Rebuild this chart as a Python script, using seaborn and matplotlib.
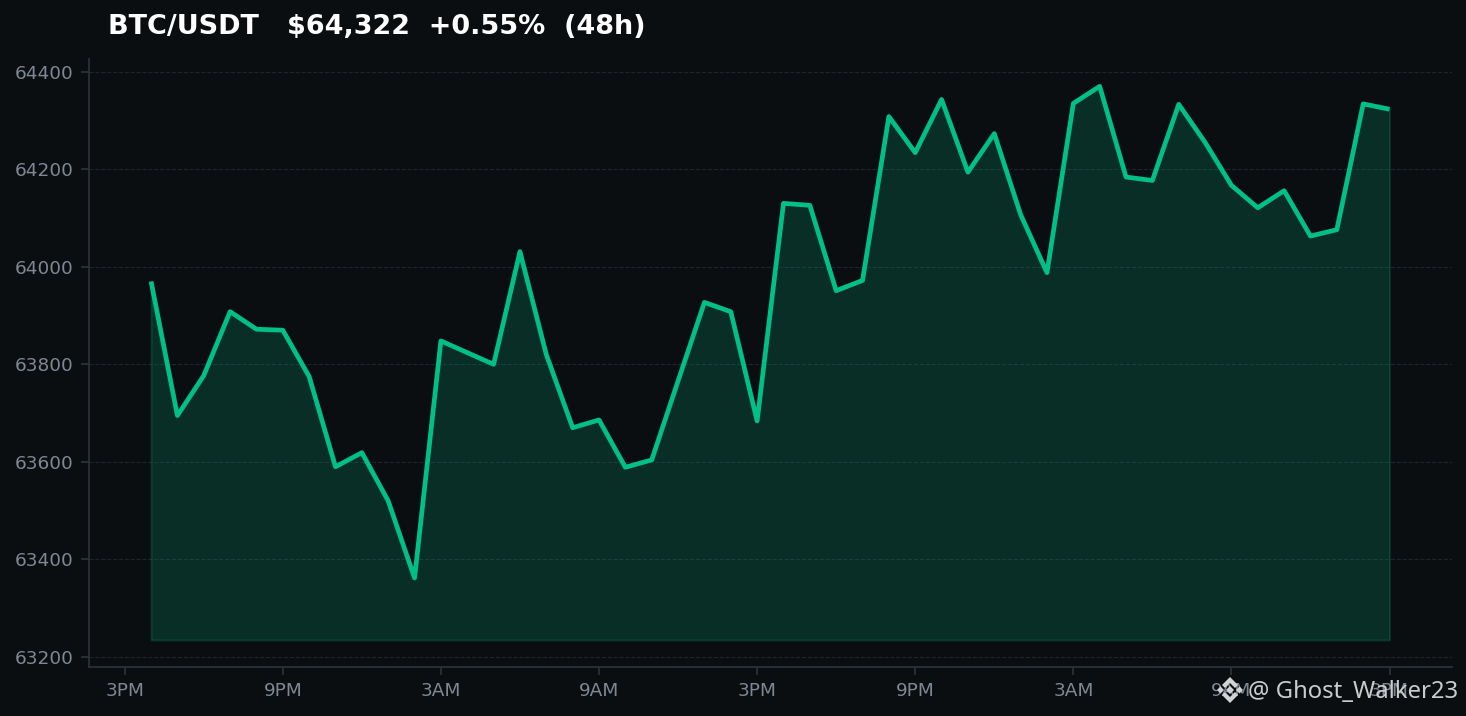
import matplotlib
matplotlib.use("Agg")
import matplotlib.pyplot as plt
from matplotlib.patches import Polygon
import seaborn as sns

hours = list(range(1, 49))
prices = [63970, 63695, 63777, 63908, 63872, 63870, 63775, 63590, 63619, 63520,
          63362, 63848, 63824, 63800, 64031, 63820, 63670, 63686, 63589, 63604,
          63766, 63927, 63908, 63684, 64130, 64126, 63951, 63972, 64308, 64234,
          64343, 64194, 64273, 64107, 63988, 64335, 64370, 64184, 64177, 64333,
          64255, 64167, 64121, 64156, 64063, 64076, 64334, 64323]
fill_floor = 63235
tick_hours = [0, 6, 12, 18, 24, 30, 36, 42, 48]
tick_labels = ["3PM", "9PM", "3AM", "9AM", "3PM", "9PM", "3AM", "9AM", "3PM"]
y_ticks = [63200, 63400, 63600, 63800, 64000, 64200, 64400]

BG = "#0b0e11"
GREEN = "#00c085"
MUTED = "#7e8792"
EDGE = "#2f343c"

sns.set_theme(style="dark", rc={"axes.facecolor": BG, "figure.facecolor": BG})

W, H = 1466, 716
fig = plt.figure(figsize=(W / 100, H / 100), dpi=100)
ax = fig.add_axes([89 / W, 1 - 667 / H, (1452 - 89) / W, (667 - 59) / H])

# -------------------------------
# price line and area
# -------------------------------
ax.fill_between(hours, prices, fill_floor, color=GREEN, alpha=0.18, linewidth=1.5)
sns.lineplot(x=hours, y=prices, color=GREEN, linewidth=3.4, ax=ax, solid_capstyle="butt")

ax.set_xlim(-1.355, 50.37)
ax.set_ylim(63179.5, 64426)
ax.set_xticks(tick_hours)
ax.set_xticklabels(tick_labels)
ax.set_yticks(y_ticks)
ax.tick_params(colors=MUTED, labelsize=13.3, length=6, width=1.2, color=EDGE, pad=5, left=True, bottom=True)
ax.yaxis.grid(True, color="#20252b", linestyle="--", linewidth=0.8)
ax.xaxis.grid(False)
ax.set_axisbelow(True)

sns.despine(ax=ax)
for side in ["left", "bottom"]:
    ax.spines[side].set_color(EDGE)
    ax.spines[side].set_linewidth(1.2)

fig.text(108 / W, 1 - 27.5 / H, "BTC/USDT   $64,322  +0.55%  (48h)", color="white",
         fontsize=19.45, fontweight="bold", va="center", ha="left")

# -------------------------------
# watermark
# -------------------------------
fig.text(1248 / W, 1 - 691.5 / H, "@ Ghost_Walker23", color="#c9cbcd", fontsize=17.2,
         family="Noto Sans", va="center", ha="left", zorder=10)
logo_shapes = [
    [(1230, 677), (1238, 685), (1235, 688), (1230, 683), (1225, 688), (1222, 685)],
    [(1230, 703), (1238, 695), (1235, 692), (1230, 697), (1225, 692), (1222, 695)],
    [(1217, 690), (1220.5, 686.5), (1224, 690), (1220.5, 693.5)],
    [(1236, 690), (1239.5, 686.5), (1243, 690), (1239.5, 693.5)],
    [(1226, 690), (1230, 686), (1234, 690), (1230, 694)],
]
for pts in logo_shapes:
    fig.add_artist(Polygon([(x / W, 1 - y / H) for x, y in pts], closed=True, facecolor="#d2d3d4",
                           edgecolor="none", transform=fig.transFigure, zorder=10))

fig.savefig("out.png", dpi=100, facecolor=BG)
